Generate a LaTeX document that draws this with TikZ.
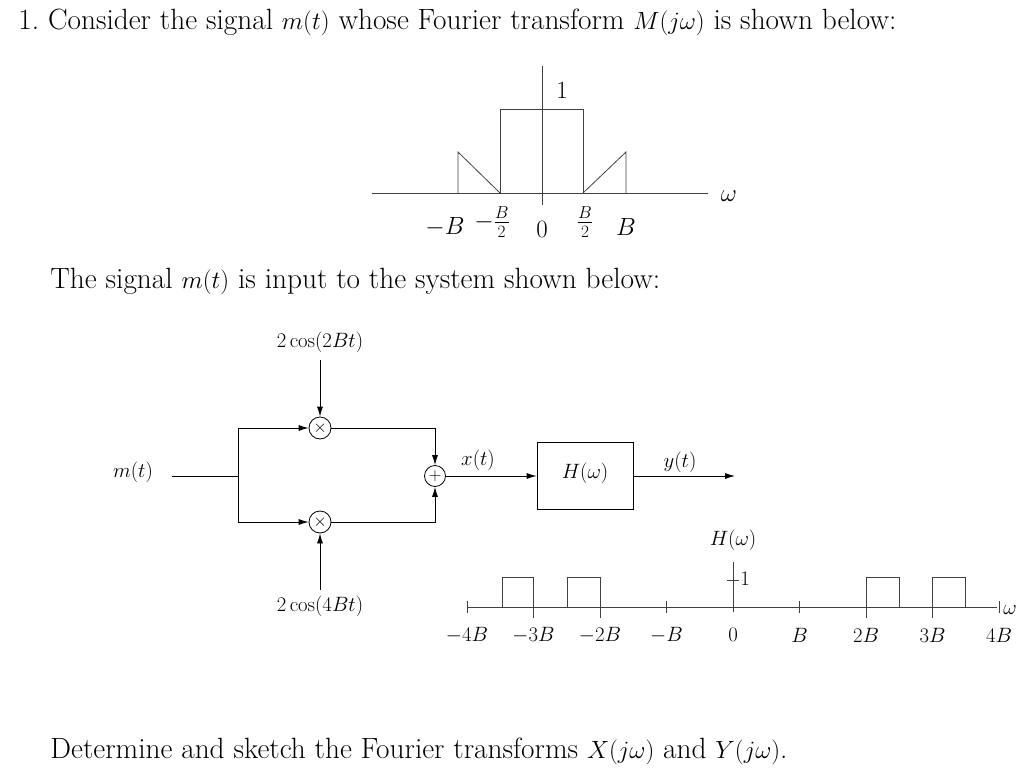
\documentclass[tikz,border=0pt]{standalone}
\usetikzlibrary{arrows.meta}
\begin{document}
\begin{tikzpicture}[x=1pt,y=-1pt,line width=0.8pt,
  big/.style={font=\fontsize{29.3}{32}\selectfont,inner sep=0pt},
  lab/.style={font=\fontsize{25}{28}\selectfont,inner sep=1pt},
  sml/.style={font=\fontsize{19.5}{22}\selectfont,inner sep=1pt},
  arr/.style={-{Latex[length=10pt,width=6pt]}},
  mult/.style={circle,draw,minimum size=22pt,inner sep=0pt,font=\fontsize{16}{18}\selectfont},
  g/.style={draw=black!75}]
\useasboundingbox (0,0) rectangle (1024,781);
\node[big,anchor=west] (t1) at (18,22) {1.\ Consider the signal $m(t)$ whose Fourier transform $M(j\omega)$ is shown below:};
\node[big,anchor=west] (t2) at (50,281) {The signal $m(t)$ is input to the system shown below:};
\node[big,anchor=west] (t3) at (50,751) {Determine and sketch the Fourier transforms $X(j\omega)$ and $Y(j\omega)$.};
% top spectrum
\draw[g] (372,193) -- (708,193);
\draw[g] (542,66) -- (542,205);
\draw[g] (500,193) -- (500,109) -- (583,109) -- (583,193);
\draw[g] (458,193) -- (458,152) -- (500,193);
\draw[g] (583,193) -- (626,152) -- (626,193);
\node[lab] (om1) at (729,196) {$\omega$};
\node[lab] (one) at (562,90) {$1$};
\node[lab] (l1) at (445,227) {$-B$};
\node[lab] (l2) at (492,222) {$-\frac{B}{2}$};
\node[lab] (l3) at (542,229) {$0$};
\node[lab] (l4) at (585,222) {$\frac{B}{2}$};
\node[lab] (l5) at (626,227) {$B$};
% block diagram
\node[sml] (m) at (133,472) {$m(t)$};
\coordinate (s0) at (172,476);
\coordinate (s) at (238,476);
\coordinate (s1) at (238,428);
\coordinate (s2) at (238,522);
\node[mult] (x1) at (320,428) {$\times$};
\node[mult] (x2) at (320,522) {$\times$};
\node[mult,minimum size=21pt] (p) at (435,476) {$+$};
\node[sml] (c1) at (320,342) {$2\cos(2Bt)$};
\node[sml] (c2) at (320,606) {$2\cos(4Bt)$};
\coordinate (c1a) at (320,360);
\coordinate (c2a) at (320,590);
\node[draw,minimum width=96pt,minimum height=67pt] (h) at (585,476) {};
\node[sml] (hl) at (585,473) {$H(\omega)$};
\coordinate (out) at (735,476);
\draw (s0) -- (s);
\draw (s1) -- (s2);
\draw[arr] (s1) -- (x1);
\draw[arr] (s2) -- (x2);
\draw[arr] (c1a) -- (x1.north);
\draw[arr] (c2a) -- (x2.south);
\draw[arr] (x1.east) -- (435,428) -- (p.north);
\draw[arr] (x2.east) -- (435,522) -- (p.south);
\draw[arr] (p.east) -- (h.west);
\draw[arr] (h.east) -- (out);
\node[sml] (xt) at (478,460) {$x(t)$};
\node[sml] (yt) at (680,462) {$y(t)$};
% H spectrum
\draw[g] (467,607) -- (997,607);
\draw[g] (733,562) -- (733,612);
\draw[g] (727,580) -- (739,580);
\node[sml,anchor=west] (h1) at (739,579) {$1$};
\node[sml] (hw) at (733,540) {$H(\omega)$};
\foreach \k in {-4,-1,1,4} \draw[g] ({733+66.5*\k},601) -- ({733+66.5*\k},613);
\foreach \k in {-3,-2,2,3} \draw[g] ({733+66.5*\k},601) -- ({733+66.5*\k},618);
\draw[g] (502,607) -- (502,577) -- (533,577) -- (533,607);
\draw[g] (567,607) -- (567,577) -- (600,577) -- (600,607);
\draw[g] (866,607) -- (866,577) -- (899,577) -- (899,607);
\draw[g] (932,607) -- (932,577) -- (965,577) -- (965,607);
\node[sml] (w2) at (1010,610) {$\omega$};
\foreach \k/\t in {-4/-4B,-3/-3B,-2/-2B,-1/-B,0/0,1/B,2/2B,3/3B,4/4B}
  \node[sml] at ({733+66.5*\k},635) {$\t$};
\end{tikzpicture}
\end{document}
